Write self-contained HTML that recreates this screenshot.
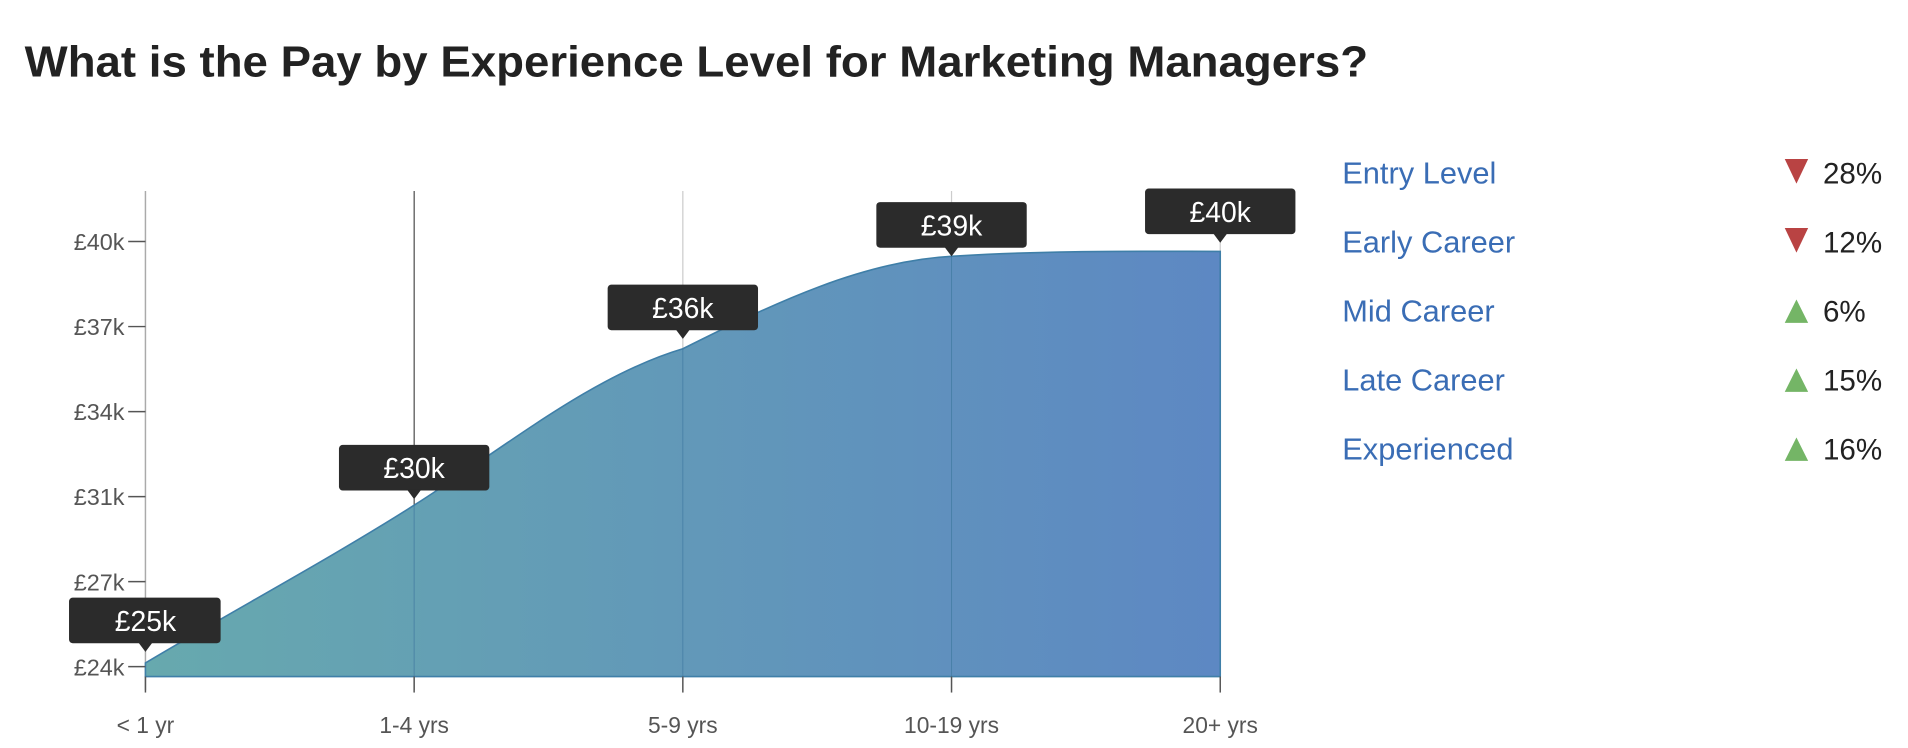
<!DOCTYPE html>
<html><head><meta charset="utf-8"><style>
html,body{margin:0;padding:0;background:#fff;width:1908px;height:748px;overflow:hidden}
svg{display:block}
text{font-family:"Liberation Sans",Arial,sans-serif}
</style></head><body>
<svg width="1908" height="748" viewBox="0 0 1548 607" preserveAspectRatio="none" xmlns="http://www.w3.org/2000/svg">
<defs>
<linearGradient id="g" x1="118" y1="0" x2="990" y2="0" gradientUnits="userSpaceOnUse">
<stop offset="0" stop-color="#67a9ae"/><stop offset="1" stop-color="#5d88c3"/>
</linearGradient>
</defs>
<text x="20" y="62" font-size="35" font-weight="bold" fill="#222" textLength="1090" lengthAdjust="spacingAndGlyphs">What is the Pay by Experience Level for Marketing Managers?</text>
<line x1="118" y1="155" x2="118" y2="560" stroke="#aaa" stroke-width="1.2"/>
<line x1="336" y1="155" x2="336" y2="560" stroke="#222" stroke-width="0.8"/>
<line x1="554" y1="155" x2="554" y2="560" stroke="#ccc" stroke-width="1"/>
<line x1="772" y1="155" x2="772" y2="560" stroke="#ccc" stroke-width="1"/>
<line x1="990" y1="155" x2="990" y2="560" stroke="#ccc" stroke-width="1"/>
<path d="M118,538 C190,495 265,455 336,410 C410,363 480,305 554,283 C630,245 700,212 772,208 C850,203 930,204 990,204 L990,549 L118,549 Z" fill="url(#g)"/>
<path d="M118,538 C190,495 265,455 336,410 C410,363 480,305 554,283 C630,245 700,212 772,208 C850,203 930,204 990,204 L990,549 L118,549 Z" fill="none" stroke="#3f7fa8" stroke-width="1.3"/>
<g stroke="#3f78a0" stroke-width="0.8" opacity="0.7">
<line x1="336" y1="410" x2="336" y2="549"/><line x1="554" y1="283" x2="554" y2="549"/><line x1="772" y1="208" x2="772" y2="549"/>
</g>
<g stroke="#555" stroke-width="1.2">
<line x1="118" y1="549" x2="118" y2="562"/><line x1="336" y1="549" x2="336" y2="562"/><line x1="554" y1="549" x2="554" y2="562"/><line x1="772" y1="549" x2="772" y2="562"/><line x1="990" y1="549" x2="990" y2="562"/>
</g>
<g stroke="#555" stroke-width="1.2">
<line x1="104" y1="196" x2="118" y2="196"/><line x1="104" y1="265" x2="118" y2="265"/><line x1="104" y1="334" x2="118" y2="334"/><line x1="104" y1="403" x2="118" y2="403"/><line x1="104" y1="472" x2="118" y2="472"/><line x1="104" y1="541" x2="118" y2="541"/>
</g>
<g font-size="19" fill="#555" text-anchor="end">
<text x="101" y="203">£40k</text><text x="101" y="272">£37k</text><text x="101" y="341">£34k</text><text x="101" y="410">£31k</text><text x="101" y="479">£27k</text><text x="101" y="548">£24k</text>
</g>
<g font-size="18.5" fill="#555" text-anchor="middle">
<text x="118" y="595">&lt; 1 yr</text><text x="336" y="595">1-4 yrs</text><text x="554" y="595">5-9 yrs</text><text x="772" y="595">10-19 yrs</text><text x="990" y="595">20+ yrs</text>
</g>
<g fill="#2b2b2b">
<rect x="56" y="485" width="123" height="37" rx="3"/><path d="M112,521 L118,529 L124,521Z"/>
<rect x="275" y="361" width="122" height="37" rx="3"/><path d="M330,397 L336,405 L342,397Z"/>
<rect x="493" y="231" width="122" height="37" rx="3"/><path d="M548,267 L554,275 L560,267Z"/>
<rect x="711" y="164" width="122" height="37" rx="3"/><path d="M766,200 L772,208 L778,200Z"/>
<rect x="929" y="153" width="122" height="37" rx="3"/><path d="M984,189 L990,197 L996,189Z"/>
</g>
<g font-size="23" fill="#fff" text-anchor="middle">
<text x="118" y="512">£25k</text><text x="336" y="388">£30k</text><text x="554" y="258">£36k</text><text x="772" y="191">£39k</text><text x="990" y="180">£40k</text>
</g>
<g font-size="25" fill="#3a6db5">
<text x="1089" y="149">Entry Level</text><text x="1089" y="205">Early Career</text><text x="1089" y="261">Mid Career</text><text x="1089" y="317">Late Career</text><text x="1089" y="373">Experienced</text>
</g>
<path d="M1448,129 L1467,129 L1457.5,149Z" fill="#b94343"/>
<path d="M1448,185 L1467,185 L1457.5,205Z" fill="#b94343"/>
<path d="M1448,262 L1467,262 L1457.5,243Z" fill="#74b566"/>
<path d="M1448,318 L1467,318 L1457.5,299Z" fill="#74b566"/>
<path d="M1448,374 L1467,374 L1457.5,355Z" fill="#74b566"/>
<g font-size="24" fill="#222">
<text x="1479" y="149">28%</text><text x="1479" y="205">12%</text><text x="1479" y="261">6%</text><text x="1479" y="317">15%</text><text x="1479" y="373">16%</text>
</g>
</svg>
</body></html>
